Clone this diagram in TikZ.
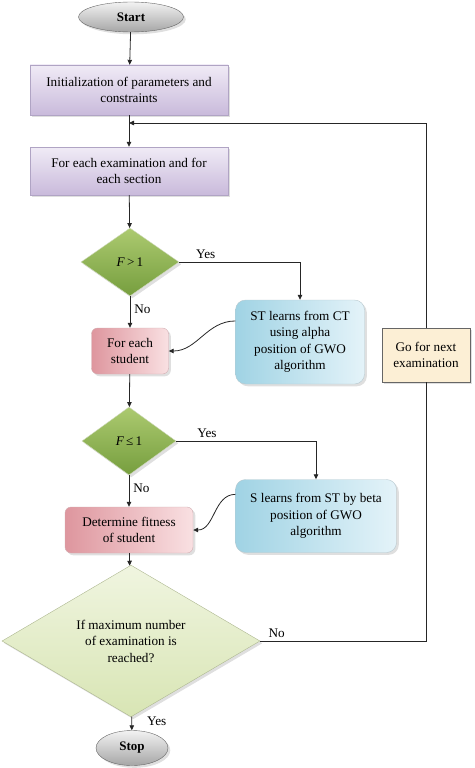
\documentclass[tikz,border=0pt]{standalone}
\usepackage{fontspec}
\setmainfont{Liberation Serif}
\usepackage{xcolor}
\usepackage{tikz}
\usetikzlibrary{arrows.meta,positioning,shapes.geometric,shadows}
\definecolor{initcolor}{RGB}{201,186,219}
\definecolor{initlight}{RGB}{240,235,246}
\definecolor{initborder}{RGB}{176,164,196}
\definecolor{decdark}{RGB}{118,158,62}
\definecolor{declight}{RGB}{172,202,112}
\definecolor{endcolor}{RGB}{216,229,180}
\definecolor{endlight}{RGB}{240,245,224}
\definecolor{studcolor}{RGB}{222,150,158}
\definecolor{studlight}{RGB}{249,224,226}
\definecolor{learncolor}{RGB}{160,211,228}
\definecolor{learnlight}{RGB}{228,243,249}
\definecolor{nextcolor}{RGB}{252,239,213}

\tikzset{
  flowline/.style={draw=black!85, line width=0.8pt},
  flowarrow/.style={flowline, -{Triangle[length=5pt,width=4.5pt]}},
  termbox/.style={ellipse, draw=black!60, top color=black!5, bottom color=black!35,
    drop shadow={opacity=0.25}, font=\fontsize{13}{16}\selectfont\bfseries},
  initbox/.style={rectangle, draw=initborder, top color=initlight, bottom color=initcolor,
    drop shadow={opacity=0.25}, align=center},
  studbox/.style={rectangle, rounded corners=6pt, draw=studcolor!80!black!60,
    left color=studcolor, right color=studlight, drop shadow={opacity=0.25}, align=center},
  learnbox/.style={rectangle, rounded corners=10pt, draw=learncolor!70!black!50,
    left color=learncolor, right color=learnlight, drop shadow={opacity=0.25}, align=center},
  decbox/.style={diamond, inner sep=0pt, draw=declight!80!black!40, top color=declight,
    bottom color=decdark, drop shadow={opacity=0.25}},
  lab/.style={inner sep=1pt}
}

\begin{document}
\begin{tikzpicture}[x=1pt, y=-1pt, font=\fontsize{13.2}{16.5}\selectfont]
  \useasboundingbox (0,0) rectangle (474,768);

  % Start and initialization
  \node[termbox, minimum width=105pt, minimum height=30pt] (start) at (131,17) {Start};
  \node[initbox, minimum width=198pt, minimum height=50pt] (init) at (129,90)
    {Initialization of parameters and\\constraints};
  \node[initbox, minimum width=198pt, minimum height=48pt] (exam) at (129,171)
    {For each examination and for\\each section};
  \coordinate (loopin) at (129,123);

  % First decision
  \node[decbox, minimum width=98pt, minimum height=68pt] (fgt) at (130,262)
    {\textit{F}\,>\,1};
  \node[studbox, minimum width=77pt, minimum height=46pt] (student) at (130,351)
    {For each\\student};
  \node[learnbox, minimum width=129pt, minimum height=84pt] (alpha) at (300,342)
    {ST learns from CT\\using alpha\\position of GWO\\algorithm};

  % Second decision
  \node[decbox, minimum width=94pt, minimum height=68pt] (fle) at (129,441)
    {\textit{F}\,≤\,1};
  \node[studbox, minimum width=128pt, minimum height=46pt] (fitness) at (129,530)
    {Determine fitness\\of student};
  \node[learnbox, minimum width=161pt, minimum height=73pt] (beta) at (316,516)
    {S learns from ST by beta\\position of GWO\\algorithm};

  % Last decision, next examination, stop
  \node[diamond, inner sep=0pt, draw=endcolor!80!black, top color=endlight,
    bottom color=endcolor, drop shadow={opacity=0.25}, minimum width=258pt,
    minimum height=113pt, align=center] (maxexam) at (131,641)
    {If maximum number\\of examination is\\reached?};
  \node[rectangle, draw=black!60, fill=nextcolor, drop shadow={opacity=0.25},
    minimum width=88pt, minimum height=54pt, align=center] (next) at (426,355)
    {Go for next\\examination};
  \node[termbox, minimum width=72pt, minimum height=35pt] (stop) at (132,748) {Stop};

  % Main flow
  \draw[flowarrow] (start) -- (init);
  \draw[flowarrow] (init) -- (exam);
  \draw[flowarrow] (exam) -- (fgt);
  \draw[flowarrow] (fgt) -- node[lab, right=3pt, pos=0.4] {No} (student);
  \draw[flowarrow] (fgt.east) -| node[lab, above=2pt, pos=0.11] {Yes} (alpha.north);
  \draw[flowarrow] (alpha.162) to[out=180, in=0] (student.east);
  \draw[flowarrow] (student) -- (fle);
  \draw[flowarrow] (fle) -- node[lab, right=3pt, pos=0.4] {No} (fitness);
  \draw[flowarrow] (fle.east) -| node[lab, above=2pt, pos=0.11] {Yes} (beta.north);
  \draw[flowarrow] (beta.165) to[out=180, in=0] (fitness.east);
  \draw[flowarrow] (fitness) -- (maxexam);
  \draw[flowarrow] (maxexam) -- node[lab, right=14pt, pos=0.35] {Yes} (stop);

  % Loop back
  \draw[flowline] (maxexam.east) -| node[lab, above=2pt, pos=0.05] {No} (next.south);
  \draw[flowarrow] (next.north) |- (loopin);

\end{tikzpicture}
\end{document}
